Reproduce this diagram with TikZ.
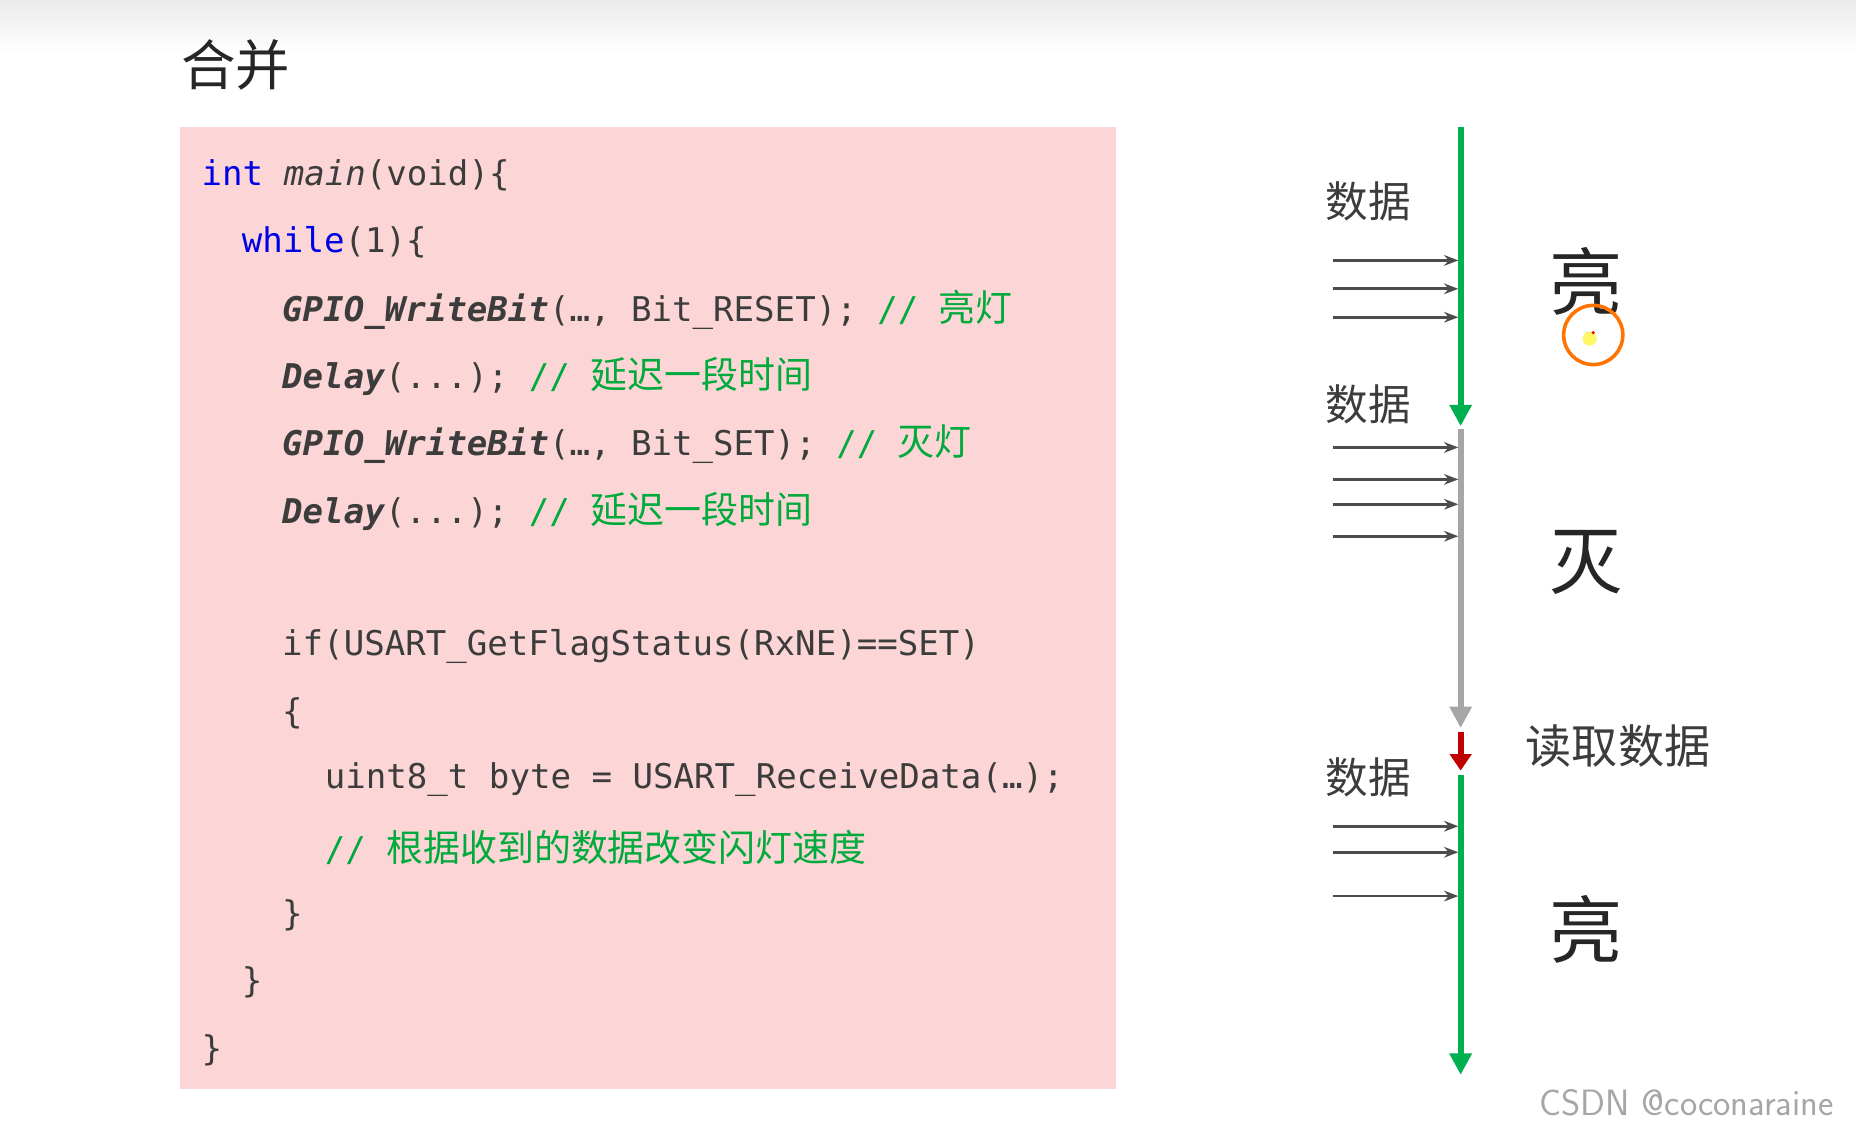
\documentclass[tikz,border=0pt]{standalone}
\usepackage{fontspec}
\setmonofont{DejaVu Sans Mono}
\newfontfamily\cjk{Noto Sans CJK SC}
\usetikzlibrary{arrows.meta}
\definecolor{kw}{RGB}{0,0,230}
\definecolor{cm}{RGB}{0,170,60}
\definecolor{pinkbg}{RGB}{252,214,214}
\definecolor{gline}{RGB}{0,176,80}
\definecolor{txt}{RGB}{60,60,60}
\begin{document}
\begin{tikzpicture}[x=0.5pt,y=-0.5pt,
  code/.style={anchor=west,inner sep=0pt,font=\fontsize{14.4}{16}\ttfamily,text=txt},
  lbl/.style={font=\cjk\fontsize{18}{20}\selectfont,text=txt},
  big/.style={font=\cjk\fontsize{31}{34}\selectfont,text=black!85},
  inarrow/.style={-{Stealth[length=6pt]},draw=black!70,line width=1.2pt},
  vl/.style={line width=2.4pt}]
\useasboundingbox (0,0) rectangle (1568,960);
\shade[top color=black!8,bottom color=white] (0,0) rectangle (1568,45);
\node[font=\cjk\fontsize{23}{26}\selectfont,text=black!85,anchor=west] (title) at (146,55) {合并};
\fill[pinkbg] (152,107) rectangle (943,920);
\newcommand{\cj}[1]{{\cjk\fontsize{15.6}{16}\selectfont #1}}
\node[code] (l1) at (170,148) {\textcolor{kw}{int} \textit{main}(void)\{};
\node[code] (l2) at (204,205) {\textcolor{kw}{while}(1)\{};
\node[code] (l3) at (238,262) {\textbf{\textit{GPIO\_WriteBit}}(…, Bit\_RESET); \textcolor{cm}{// \cj{亮灯}}};
\node[code] (l4) at (238,318) {\textbf{\textit{Delay}}(...); \textcolor{cm}{// \cj{延迟一段时间}}};
\node[code] (l5) at (238,375) {\textbf{\textit{GPIO\_WriteBit}}(…, Bit\_SET); \textcolor{cm}{// \cj{灭灯}}};
\node[code] (l6) at (238,432) {\textbf{\textit{Delay}}(...); \textcolor{cm}{// \cj{延迟一段时间}}};
\node[code] (l7) at (238,546) {if(USART\_GetFlagStatus(RxNE)==SET)};
\node[code] (l8) at (238,603) {\{};
\node[code] (l9) at (274,659) {uint8\_t byte = USART\_ReceiveData(…);};
\node[code] (l10) at (274,716) {\textcolor{cm}{// \cj{根据收到的数据改变闪灯速度}}};
\node[code] (l11) at (238,773) {\}};
\node[code] (l12) at (204,830) {\}};
\node[code] (l13) at (170,887) {\}};
% timeline
\coordinate (g1a) at (1234,107); \coordinate (g1b) at (1234,360);
\coordinate (g2a) at (1234,362); \coordinate (g2b) at (1234,615);
\coordinate (r1a) at (1234,618); \coordinate (r1b) at (1234,651);
\coordinate (g3a) at (1234,655); \coordinate (g3b) at (1234,908);
\draw[vl,draw=gline,-{Triangle[length=9pt,width=9pt,fill=gline]}] (g1a) -- (g1b);
\draw[vl,draw=black!35,-{Triangle[length=9pt,width=9pt,fill=black!35]}] (g2a) -- (g2b);
\draw[vl,draw=red!75!black,-{Triangle[length=7pt,width=9pt,fill=red!75!black]}] (r1a) -- (r1b);
\draw[vl,draw=gline,-{Triangle[length=9pt,width=9pt,fill=gline]}] (g3a) -- (g3b);
\foreach \y in {220,244,268,378,405,426,453,698,720,757}{
  \coordinate (s\y) at (1126,\y); \coordinate (e\y) at (1232,\y);
  \draw[inarrow] (s\y) -- (e\y);}
\node[lbl] (d1) at (1156,170) {数据};
\node[lbl] (d2) at (1156,342) {数据};
\node[lbl] (d3) at (1156,657) {数据};
\node[big] (on1) at (1340,238) {亮};
\node[big] (off) at (1340,475) {灭};
\node[lbl,font=\cjk\fontsize{19.5}{22}\selectfont] (rd) at (1367,630) {读取数据};
\node[big] (on2) at (1340,785) {亮};
\draw[orange!90!red,line width=1.5pt] (1346,283) circle (25);
\fill[yellow!60] (1343,286) circle (6);
\fill[red] (1346,281) circle (1.5);
\node[font=\fontsize{15.5}{17}\selectfont\sffamily,text=black!35] (wm) at (1425,932) {CSDN @coconaraine};
\end{tikzpicture}
\end{document}
